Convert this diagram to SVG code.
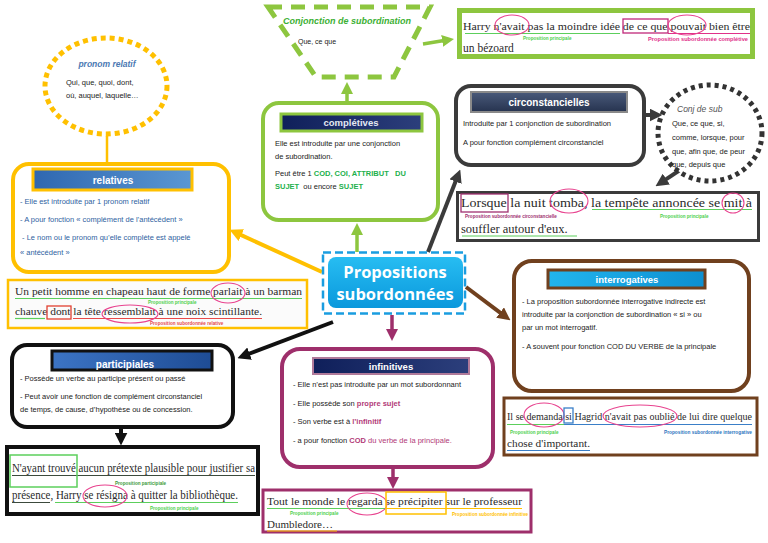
<svg xmlns="http://www.w3.org/2000/svg" width="768" height="543" viewBox="0 0 768 543">
<defs>
<style>
.b{font-family:"Liberation Sans",Arial,sans-serif;font-size:7.5px;fill:#222}
.bb{font-weight:bold}
.hd{font-family:"Liberation Sans",Arial,sans-serif;font-weight:bold;font-size:10px;fill:#fff;text-anchor:middle}
.ex{font-family:"Liberation Serif","Times New Roman",serif;font-size:11.5px;fill:#2a2a2a}
.lb{font-family:"Liberation Sans",Arial,sans-serif;font-size:4.6px;font-weight:bold}
.el{fill:none;stroke:#e8438f;stroke-width:1.1}
.ul{fill:none;stroke-width:1.2}
.con{fill:none;stroke-linecap:butt}
</style>
<linearGradient id="gNavy" x1="0" y1="0" x2="1" y2="0"><stop offset="0" stop-color="#0f1f5a"/><stop offset="1" stop-color="#2c3f7c"/></linearGradient>
<linearGradient id="gSlate" x1="0" y1="0" x2="0" y2="1"><stop offset="0" stop-color="#4a5a7a"/><stop offset="1" stop-color="#26334f"/></linearGradient>
<linearGradient id="gBlue" x1="0" y1="0" x2="1" y2="0"><stop offset="0" stop-color="#2f67b0"/><stop offset="1" stop-color="#5a97d3"/></linearGradient>
<linearGradient id="gCyan" x1="0" y1="0" x2="1" y2="0"><stop offset="0" stop-color="#22b5ee"/><stop offset="1" stop-color="#0d8fd0"/></linearGradient>
<linearGradient id="gPart" x1="0" y1="0" x2="1" y2="0"><stop offset="0" stop-color="#3c74c4"/><stop offset="1" stop-color="#1e4c95"/></linearGradient>
<linearGradient id="gCenter" x1="0" y1="0" x2="0" y2="1"><stop offset="0" stop-color="#27bdf2"/><stop offset="1" stop-color="#0a98dc"/></linearGradient>
<marker id="mG" viewBox="0 0 12 12" refX="5" refY="6" markerWidth="12" markerHeight="12" markerUnits="userSpaceOnUse" orient="auto"><path d="M0,0 L12,6 L0,12 z" fill="#8dc63f"/></marker>
<marker id="mD" viewBox="0 0 12 12" refX="5" refY="6" markerWidth="13" markerHeight="13" markerUnits="userSpaceOnUse" orient="auto"><path d="M0,0 L12,6 L0,12 z" fill="#3b3b3b"/></marker>
<marker id="mO" viewBox="0 0 12 12" refX="5" refY="6" markerWidth="13" markerHeight="13" markerUnits="userSpaceOnUse" orient="auto"><path d="M0,0 L12,6 L0,12 z" fill="#ffc000"/></marker>
<marker id="mK" viewBox="0 0 12 12" refX="5" refY="6" markerWidth="13" markerHeight="13" markerUnits="userSpaceOnUse" orient="auto"><path d="M0,0 L12,6 L0,12 z" fill="#111"/></marker>
<marker id="mP" viewBox="0 0 12 12" refX="5" refY="6" markerWidth="12" markerHeight="12" markerUnits="userSpaceOnUse" orient="auto"><path d="M0,0 L12,6 L0,12 z" fill="#9e2f6b"/></marker>
<marker id="mB" viewBox="0 0 12 12" refX="5" refY="6" markerWidth="13" markerHeight="13" markerUnits="userSpaceOnUse" orient="auto"><path d="M0,0 L12,6 L0,12 z" fill="#70401e"/></marker>
</defs>
<rect width="768" height="543" fill="#fff"/>

<g id="connectors">
<line class="con" x1="107" y1="163" x2="107" y2="136" stroke="#ffc000" stroke-width="2.5"/>
<line class="con" x1="423" y1="44" x2="447.1" y2="40.1" stroke="#8dc63f" stroke-width="3.5" marker-end="url(#mG)"/>
<line class="con" x1="347" y1="102" x2="347" y2="89" stroke="#8dc63f" stroke-width="3.5" marker-end="url(#mG)"/>
<line class="con" x1="357" y1="252" x2="357" y2="230" stroke="#8dc63f" stroke-width="3.5" marker-end="url(#mG)"/>
<line class="con" x1="428" y1="252" x2="457.5" y2="176.5" stroke="#3b3b3b" stroke-width="4" marker-end="url(#mD)"/>
<line class="con" x1="645" y1="115" x2="655" y2="115" stroke="#3b3b3b" stroke-width="4" marker-end="url(#mD)"/>
<line class="con" x1="683" y1="168" x2="661.8" y2="182.1" stroke="#3b3b3b" stroke-width="4" marker-end="url(#mD)"/>
<line class="con" x1="322" y1="272" x2="236.4" y2="232.9" stroke="#ffc000" stroke-width="4" marker-end="url(#mO)"/>
<line class="con" x1="333" y1="322" x2="244.5" y2="355.5" stroke="#111" stroke-width="4" marker-end="url(#mK)"/>
<line class="con" x1="392" y1="315" x2="392" y2="334" stroke="#9e2f6b" stroke-width="3.5" marker-end="url(#mP)"/>
<line class="con" x1="466" y1="287" x2="504.4" y2="315.8" stroke="#70401e" stroke-width="4" marker-end="url(#mB)"/>
<line class="con" x1="121" y1="428" x2="121" y2="438" stroke="#111" stroke-width="4" marker-end="url(#mK)"/>
<line class="con" x1="393" y1="469" x2="393" y2="482" stroke="#9e2f6b" stroke-width="3.5" marker-end="url(#mP)"/>
</g>

<g id="pronom-relatif">
<ellipse cx="106" cy="86" rx="61" ry="48" fill="#fff" stroke="#ffc000" stroke-width="5" stroke-dasharray="5 4"/>
<text x="107" y="67" text-anchor="middle" style="font-family:'Liberation Sans',Arial,sans-serif;font-size:8.5px;font-weight:bold;font-style:italic;fill:#4a78b2">pronom relatif</text>
<text class="b" x="66" y="85">Qui, que, quoi, dont,</text>
<text class="b" x="66" y="98">où, auquel, laquelle…</text>
</g>

<g id="conjonction">
<path d="M268,7 L430,7 L394,77 L316,77 Z" fill="#fff" stroke="#8dc63f" stroke-width="5" stroke-dasharray="14 9"/>
<text x="283" y="24" style="font-family:'Liberation Sans',Arial,sans-serif;font-size:9px;font-weight:bold;font-style:italic;fill:#3cb034">Conjonction de subordination</text>
<text class="b" x="298" y="44" style="font-size:7px">Que, ce que</text>
</g>

<g id="ex-completive">
<rect x="459.5" y="10.5" width="293" height="46" fill="#fff" stroke="#8dc63f" stroke-width="5"/>
<text class="ex" x="463" y="30" style="font-size:11px" textLength="287" lengthAdjust="spacingAndGlyphs">Harry n'avait pas la moindre idée de ce que pouvait bien être</text>
<text class="ex" x="463" y="52">un bézoard</text>
<line class="ul" x1="465" y1="33.5" x2="620" y2="33.5" stroke="#5ccf5c"/>
<line class="ul" x1="668" y1="33.5" x2="750" y2="33.5" stroke="#e0308a"/>
<ellipse class="el" cx="512" cy="25" rx="17" ry="10"/>
<rect x="623" y="19" width="45" height="14" fill="none" stroke="#c0287a" stroke-width="1.3"/>
<ellipse class="el" cx="687" cy="25" rx="19" ry="10"/>
<text class="lb" x="523" y="40" fill="#4cd04c">Proposition principale</text>
<text class="lb" x="648" y="41" fill="#e0308a" textLength="100" lengthAdjust="spacingAndGlyphs">Proposition subordonnée complétive</text>
</g>

<g id="completives">
<rect x="263" y="103" width="175" height="117" rx="16" fill="#fff" stroke="#8dc63f" stroke-width="4"/>
<rect x="281" y="114" width="141" height="17" fill="url(#gNavy)" stroke="#8dc63f" stroke-width="3"/>
<text class="hd" x="351" y="126" style="font-size:9.5px;fill:#e4e8f2">complétives</text>
<text class="b" x="275" y="146">Elle est introduite par une conjonction</text>
<text class="b" x="275" y="159">de subordination.</text>
<text class="b" x="275" y="176" xml:space="preserve">Peut être 1 <tspan class="bb" fill="#22b14c">COD, COI, ATTRIBUT   DU</tspan></text>
<text class="b" x="275" y="189" xml:space="preserve"><tspan class="bb" fill="#22b14c">SUJET</tspan>  ou encore <tspan class="bb" fill="#22b14c">SUJET</tspan></text>
</g>

<g id="circonstancielles">
<rect x="456" y="86" width="188" height="79" rx="15" fill="#fff" stroke="#3b3b3b" stroke-width="4"/>
<rect x="471" y="92" width="156" height="20" fill="url(#gSlate)" stroke="#8a8a8a" stroke-width="2"/>
<text class="hd" x="549" y="105.5">circonstancielles</text>
<text class="b" x="463" y="126">Introduite par 1 conjonction de subordination</text>
<text class="b" x="463" y="145">A pour fonction complément circonstanciel</text>
</g>

<g id="conj-sub">
<ellipse cx="710" cy="133" rx="52" ry="48" fill="#fff" stroke="#333" stroke-width="5" stroke-dasharray="4 4"/>
<text x="677" y="112" style="font-family:'Liberation Sans',Arial,sans-serif;font-size:8.5px;font-style:italic;fill:#555">Conj de sub</text>
<text class="b" x="672" y="126">Que, ce que, si,</text>
<text class="b" x="672" y="140">comme, lorsque, pour</text>
<text class="b" x="672" y="154">que, afin que, de peur</text>
<text class="b" x="672" y="167">que, depuis que</text>
</g>

<g id="ex-circonstancielle">
<rect x="457.5" y="192.5" width="301" height="48" fill="#fff" stroke="#3b3b3b" stroke-width="3"/>
<text class="ex" x="461" y="207" style="font-size:12.5px" textLength="291" lengthAdjust="spacingAndGlyphs">Lorsque la nuit tomba, la tempête annoncée se mit à</text>
<text class="ex" x="461" y="233" style="font-size:12.5px">souffler autour d'eux.</text>
<line class="ul" x1="592" y1="209.5" x2="752" y2="209.5" stroke="#5ccf5c"/>
<line class="ul" x1="462" y1="236" x2="577" y2="236" stroke="#5ccf5c"/>
<rect x="461" y="194" width="47" height="18" fill="none" stroke="#a03070" stroke-width="1.3"/>
<ellipse class="el" cx="569" cy="201" rx="19" ry="12"/>
<ellipse class="el" cx="733" cy="203" rx="11" ry="10"/>
<text class="lb" x="465" y="218" fill="#a03070">Proposition subordonnée circonstancielle</text>
<text class="lb" x="660" y="218" fill="#4cd04c">Proposition principale</text>
</g>

<g id="relatives">
<rect x="13" y="164" width="216" height="108" rx="16" fill="#fff" stroke="#ffc000" stroke-width="4"/>
<rect x="33" y="169" width="159" height="21" fill="url(#gBlue)" stroke="#ffc000" stroke-width="3"/>
<text class="hd" x="113" y="184">relatives</text>
<text class="b" x="20" y="204" style="fill:#2f5f9f">- Elle est introduite par 1 pronom relatif</text>
<text class="b" x="20" y="222" style="fill:#2f5f9f">- A pour fonction « complément de l’antécédent »</text>
<text class="b" x="20" y="240" style="fill:#2f5f9f" xml:space="preserve"> - Le nom ou le pronom qu’elle complète est appelé</text>
<text class="b" x="20" y="255" style="fill:#2f5f9f">« antécédent »</text>
</g>

<g id="ex-relative">
<rect x="8" y="280" width="299" height="48" fill="#fbfbfb" stroke="#ffc000" stroke-width="2.5"/>
<text class="ex" x="15" y="295" style="font-size:10.5px" textLength="287" lengthAdjust="spacingAndGlyphs">Un petit homme en chapeau haut de forme parlait à un barman</text>
<text class="ex" x="15" y="315" style="font-size:10.5px" textLength="247" lengthAdjust="spacingAndGlyphs">chauve dont la tête ressemblait à une noix scintillante.</text>
<line class="ul" x1="15" y1="298.5" x2="302" y2="298.5" stroke="#5ccf5c"/>
<line class="ul" x1="15" y1="318.5" x2="45" y2="318.5" stroke="#5ccf5c"/>
<line class="ul" x1="73" y1="318.5" x2="262" y2="318.5" stroke="#e84a4a"/>
<ellipse class="el" cx="228" cy="293" rx="17" ry="10"/>
<rect x="47" y="306" width="24" height="13" fill="none" stroke="#e04030" stroke-width="1.3"/>
<ellipse class="el" cx="130" cy="314" rx="28" ry="9"/>
<text class="lb" x="148" y="304" fill="#4cd04c">Proposition principale</text>
<text class="lb" x="150" y="325" fill="#e84a4a">Proposition subordonnée relative</text>
</g>

<g id="center">
<rect x="323" y="252.5" width="142" height="61" fill="none" stroke="#1a9de0" stroke-width="2.5" stroke-dasharray="8 4"/>
<rect x="328" y="257" width="135" height="51" rx="8" fill="url(#gCenter)"/>
<text x="395" y="278" text-anchor="middle" style="font-family:'Open Sans','Liberation Sans',sans-serif;font-size:16.5px;font-weight:bold;fill:#fff">Propositions</text>
<text x="395" y="300" text-anchor="middle" style="font-family:'Open Sans','Liberation Sans',sans-serif;font-size:16.5px;font-weight:bold;fill:#fff">subordonnées</text>
</g>

<g id="interrogatives">
<rect x="514" y="261" width="235" height="130" rx="18" fill="#fff" stroke="#70401e" stroke-width="4"/>
<rect x="548" y="270" width="157" height="18" fill="url(#gCyan)" stroke="#70401e" stroke-width="3"/>
<text class="hd" x="627" y="283" style="font-size:9.5px">interrogatives</text>
<text class="b" x="522" y="304">- La proposition subordonnée interrogative indirecte est</text>
<text class="b" x="522" y="317">introduite par la conjonction de subordination « si » ou</text>
<text class="b" x="522" y="330">par un mot interrogatif.</text>
<text class="b" x="522" y="349">- A souvent pour fonction COD DU VERBE de la principale</text>
</g>

<g id="ex-interrogative">
<rect x="504" y="398" width="253" height="57" fill="#fff" stroke="#70401e" stroke-width="3"/>
<text class="ex" x="507" y="420" style="font-size:10.5px" textLength="245" lengthAdjust="spacingAndGlyphs">Il se demanda si Hagrid n'avait pas oublié de lui dire quelque</text>
<text class="ex" x="507" y="447" style="font-size:10.5px" textLength="83" lengthAdjust="spacingAndGlyphs">chose d'important.</text>
<line class="ul" x1="507" y1="424.5" x2="564" y2="424.5" stroke="#5ccf5c"/>
<line class="ul" x1="564" y1="424.5" x2="752" y2="424.5" stroke="#3a7fc8"/>
<line class="ul" x1="507" y1="450.5" x2="590" y2="450.5" stroke="#3a7fc8"/>
<ellipse class="el" cx="544" cy="415" rx="20" ry="12"/>
<rect x="564" y="408" width="9" height="15" fill="none" stroke="#3a7fc8" stroke-width="1.3"/>
<ellipse class="el" cx="640" cy="416" rx="37" ry="11"/>
<text class="lb" x="510" y="434" fill="#4cd04c">Proposition principale</text>
<text class="lb" x="664" y="434" fill="#2e75c0" textLength="88" lengthAdjust="spacingAndGlyphs">Proposition subordonnée interrogative</text>
</g>

<g id="participiales">
<rect x="12" y="345" width="221" height="82" rx="15" fill="#fff" stroke="#111" stroke-width="4"/>
<rect x="52" y="351" width="160" height="19" fill="url(#gPart)" stroke="#111" stroke-width="3"/>
<text class="hd" x="125" y="368">participiales</text>
<text class="b" x="20" y="381">- Possède un verbe au participe présent ou passé</text>
<text class="b" x="20" y="399">- Peut avoir une fonction de complément circonstanciel</text>
<text class="b" x="20" y="412">de temps, de cause, d’hypothèse ou de concession.</text>
</g>

<g id="ex-participiale">
<rect x="7" y="447" width="251" height="67" fill="#fff" stroke="#111" stroke-width="4"/>
<text class="ex" x="12" y="472" textLength="243" lengthAdjust="spacingAndGlyphs">N'ayant trouvé aucun prétexte plausible pour justifier sa</text>
<text class="ex" x="12" y="499" textLength="226" lengthAdjust="spacingAndGlyphs">présence, Harry se résigna à quitter la bibliothèque.</text>
<line class="ul" x1="12" y1="475.5" x2="255" y2="475.5" stroke="#3c4a3c"/>
<line class="ul" x1="12" y1="502.5" x2="50" y2="502.5" stroke="#3c4a3c"/>
<line class="ul" x1="55" y1="502.5" x2="238" y2="502.5" stroke="#5ccf5c"/>
<rect x="10" y="455" width="67" height="32" fill="none" stroke="#5ccf5c" stroke-width="1.5"/>
<ellipse class="el" cx="105" cy="496" rx="22" ry="11"/>
<text class="lb" x="115" y="485" fill="#3a9a3a">Proposition participiale</text>
<text class="lb" x="150" y="510" fill="#4cd04c">Proposition principale</text>
</g>

<g id="infinitives">
<rect x="282" y="349" width="211" height="118" rx="18" fill="#fff" stroke="#9e2f6b" stroke-width="4"/>
<rect x="313" y="358" width="156" height="16" fill="url(#gNavy)" stroke="#b07a9a" stroke-width="2"/>
<text class="hd" x="391" y="369.5" style="font-size:9.5px">infinitives</text>
<text class="b" x="293" y="387">- Elle n’est pas introduite par un mot subordonnant</text>
<text class="b" x="293" y="406">- Elle possède son <tspan class="bb" fill="#b23a78">propre sujet</tspan></text>
<text class="b" x="293" y="424">- Son verbe est à <tspan class="bb" fill="#b23a78">l’infinitif</tspan></text>
<text class="b" x="293" y="443">- a pour fonction <tspan class="bb" fill="#b23a78">COD</tspan> <tspan fill="#b23a78">du verbe de la principale.</tspan></text>
</g>

<g id="ex-infinitive">
<rect x="263" y="490" width="268" height="42" fill="#fff" stroke="#9e2f6b" stroke-width="3"/>
<text class="ex" x="267" y="505" style="font-size:11px" textLength="255" lengthAdjust="spacingAndGlyphs">Tout le monde le regarda se précipiter sur le professeur</text>
<text class="ex" x="267" y="528" style="font-size:11px">Dumbledore…</text>
<line class="ul" x1="267" y1="508.5" x2="385" y2="508.5" stroke="#5ccf5c"/>
<line class="ul" x1="386" y1="508.5" x2="522" y2="508.5" stroke="#ffc000"/>
<line class="ul" x1="267" y1="531" x2="337" y2="531" stroke="#ffc000"/>
<ellipse class="el" cx="367" cy="504" rx="20" ry="11"/>
<rect x="386" y="492" width="60" height="22" fill="none" stroke="#ffc000" stroke-width="1.5"/>
<text class="lb" x="290" y="515" fill="#4cd04c">Proposition principale</text>
<text class="lb" x="452" y="516" fill="#ffc000" textLength="76" lengthAdjust="spacingAndGlyphs">Proposition subordonnée infinitive</text>
</g>
</svg>
